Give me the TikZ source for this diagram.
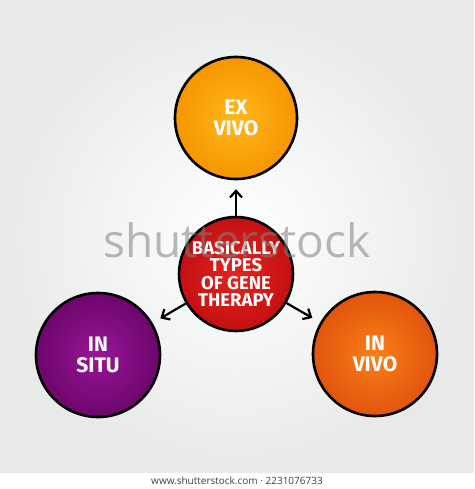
\documentclass[tikz,border=0pt]{standalone}
\usepackage{fontspec}
\setmainfont{Fira Sans}
\newfontfamily\handfont[FakeStretch=1.0]{Fira Sans}
\newfontfamily\stockfont{Open Sans}
\usetikzlibrary{arrows.meta}

\definecolor{bgedge}{RGB}{232,234,234}
\definecolor{exin}{RGB}{255,184,28}
\definecolor{exout}{RGB}{246,150,0}
\definecolor{hubin}{RGB}{228,36,30}
\definecolor{hubout}{RGB}{196,16,18}
\definecolor{situin}{RGB}{152,22,152}
\definecolor{situout}{RGB}{108,6,108}
\definecolor{vivoin}{RGB}{250,128,22}
\definecolor{vivoout}{RGB}{226,84,14}

\begin{document}
\begin{tikzpicture}[
        x=1pt, y=-1pt,
          bubble/.style={circle, draw=black, line width=2.6pt, minimum size=124pt, inner sep=0pt,
                         align=center, text=white, font=\handfont\bfseries\fontsize{21}{21}\selectfont},
          hub/.style={bubble, minimum size=114pt, font=\handfont\bfseries\fontsize{18.5}{17.5}\selectfont},
          link/.style={draw, line width=2.2pt, -{Straight Barb[length=6.5pt, width=12pt]}, shorten >=9pt}
        ]
        % background and bottom strip
        \shade[inner color=white, outer color=bgedge] (0,0) rectangle (474,473);
        \fill[white] (0,473) rectangle (474,489);
        \useasboundingbox (0,0) rectangle (474,489);

        \node[hub, inner color=hubin, outer color=hubout] (gene) at (236,274)
          {BASICALLY\\TYPES\\OF GENE\\THERAPY};
        \node[bubble, inner color=exin, outer color=exout, minimum size=122pt] (exvivo) at (236,118) {EX\\VIVO};
        \node[bubble, inner color=situin, outer color=situout] (insitu) at (98,355) {IN\\SITU};
        \node[bubble, inner color=vivoin, outer color=vivoout] (invivo) at (375,354) {IN\\VIVO};

        \draw[link] (gene) -- (exvivo);
        \draw[link] (gene) -- (insitu);
        \draw[link] (gene) -- (invivo);

        % watermark and credit line
        \node[text=gray, opacity=0.55, font=\stockfont\fontsize{46}{46}\selectfont] (mark) at (237,240) {shutterstock};
        \node[text=black!75, font=\stockfont\fontsize{10}{10}\selectfont] (credit) at (237,481)
          {www.shutterstock.com · 2231076733};
        \end{tikzpicture}
\end{document}
